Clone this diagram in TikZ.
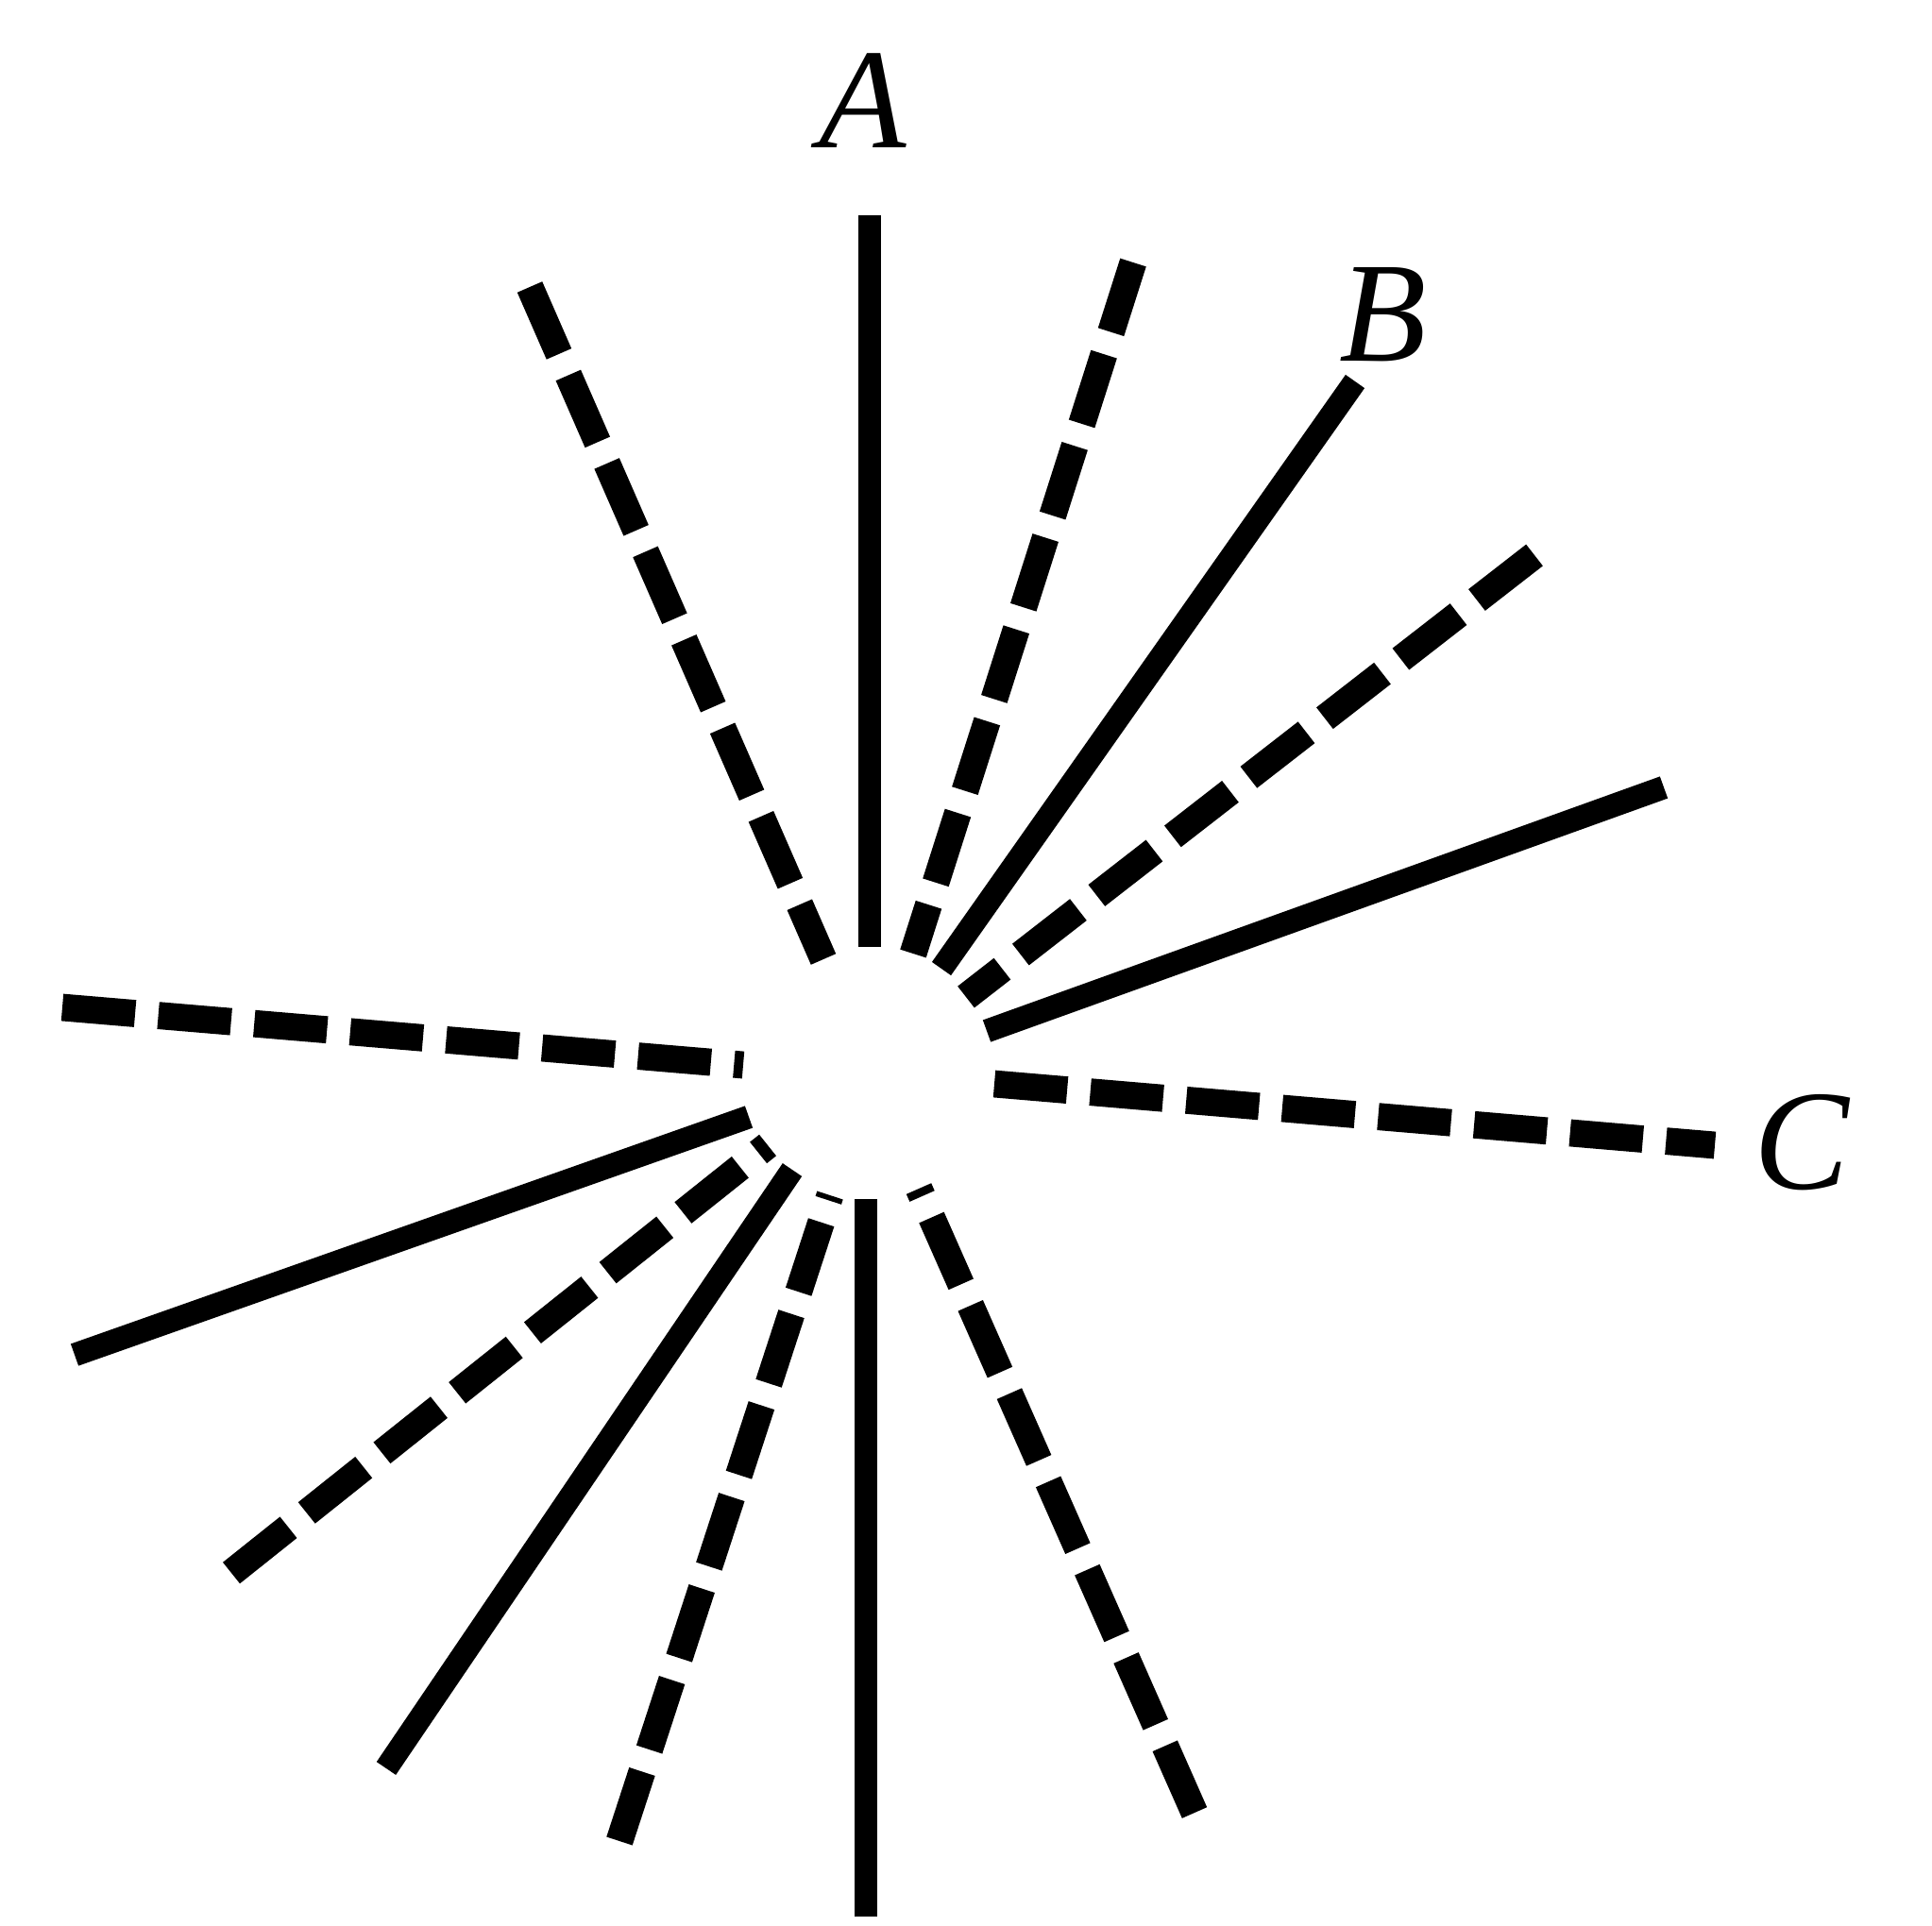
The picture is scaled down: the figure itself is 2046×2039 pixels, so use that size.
\documentclass[tikz,border=0pt]{standalone}
\usepackage{fontspec}
\setmainfont{Liberation Serif}
\begin{document}
\begin{tikzpicture}[x=0.01cm,y=-0.01cm,
  solidray/.style={line width=7pt,line cap=butt},
  dashray/.style={line width=8.2pt,line cap=butt,dash pattern=on 22pt off 7pt},
  lbl/.style={font=\fontsize{43}{43}\selectfont\itshape,inner sep=0pt}]
\useasboundingbox (0,0) rectangle (2046,2039);
% centre
\coordinate (O) at (922,1137);
% outer ends
\coordinate (Aout) at (921,228);
\coordinate (Abot) at (917,2030);
\coordinate (ULout) at (561,304);
\coordinate (LRout) at (1265,1920);
\coordinate (UNout) at (1200,278);
\coordinate (LNout) at (656,1950);
\coordinate (Bout) at (1435,404);
\coordinate (LBout) at (409,1873);
\coordinate (D5out) at (1625,588);
\coordinate (L5out) at (245,1666);
\coordinate (S6out) at (1762,834);
\coordinate (L6out) at (79,1435);
\coordinate (Cout) at (1816,1213);
\coordinate (Lout) at (66,1067);
% inner ends
\coordinate (Ain) at (921,1003);
\coordinate (Abin) at (917,1270);
\coordinate (ULin) at (872,1016);
\coordinate (LRin) at (973,1259);
\coordinate (UNin) at (967,1010);
\coordinate (LNin) at (879,1266);
\coordinate (Bin) at (997,1026);
\coordinate (LBin) at (839,1239);
\coordinate (D5in) at (1023,1056);
\coordinate (L5in) at (813,1213);
\coordinate (S6in) at (1045,1092);
\coordinate (L6in) at (793,1183);
\coordinate (Cin) at (1053,1148);
\coordinate (Lin) at (787,1128);
% solid rays
\draw[solidray] (Aout) -- (Ain);
\draw[solidray] (Abot) -- (Abin);
\draw[solidray] (Bout) -- (Bin);
\draw[solidray] (LBout) -- (LBin);
\draw[solidray] (S6out) -- (S6in);
\draw[solidray] (L6out) -- (L6in);
% dashed rays
\draw[dashray] (ULout) -- (ULin);
\draw[dashray] (LRout) -- (LRin);
\draw[dashray] (UNout) -- (UNin);
\draw[dashray] (LNout) -- (LNin);
\draw[dashray] (D5out) -- (D5in);
\draw[dashray] (L5out) -- (L5in);
\draw[dashray] (Cin) -- (Cout);
\draw[dashray] (Lout) -- (Lin);
% labels
\node[lbl] (labA) at (914,107) {A};
\node[lbl] (labB) at (1465,333) {B};
\node[lbl] (labC) at (1908,1210) {C};
\end{tikzpicture}
\end{document}
